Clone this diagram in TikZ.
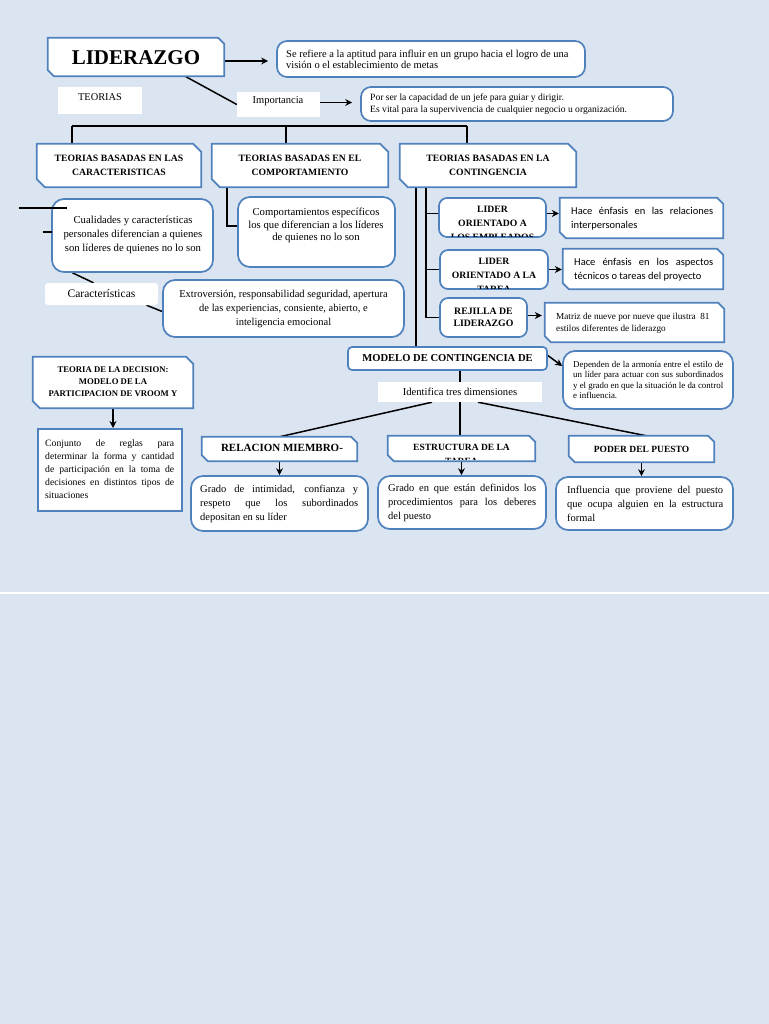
\documentclass[tikz,border=0pt]{standalone}
\usepackage{fontspec}
\setmainfont{Liberation Serif}
\newfontfamily\calib{Carlito}
\usetikzlibrary{arrows.meta,fit}
\definecolor{pagebg}{RGB}{219,229,241}
\definecolor{boxblue}{RGB}{79,129,189}
\pgfdeclarelayer{bg}
\pgfdeclarelayer{edges}
\pgfsetlayers{bg,edges,main}
\newcommand\jl[2]{\makebox[#1pt][s]{#2}}
\newcommand\snipit[2][7]{\path[snipdraw] (#2.north west) -- ([xshift=-#1pt]#2.north east) -- ([yshift=-#1pt]#2.north east) -- (#2.south east) -- ([xshift=#1pt]#2.south west) -- ([yshift=#1pt]#2.south west) -- cycle;}
\tikzset{
 rbox/.style={draw=boxblue, fill=white, line width=1.7pt, rounded corners=10pt, inner sep=0pt},
 sbox/.style={draw=none, inner sep=0pt},
 plainbox/.style={fill=white, draw=none, inner sep=0pt},
 snipdraw/.style={draw=boxblue, fill=white, line width=1.7pt, line join=miter},
 txt/.style={inner sep=0pt, align=left},
 ctxt/.style={inner sep=0pt, align=center},
 conn/.style={draw=black, line width=1.5pt},
 arr/.style={conn, -{Stealth[length=7pt,width=7pt]}},
 hdr/.style={font=\fontsize{9.7}{14}\selectfont\bfseries},
}
\begin{document}
\begin{tikzpicture}[x=1pt,y=-1pt]
\useasboundingbox (0,0) rectangle (768,1024);
\begin{pgfonlayer}{bg}
\fill[pagebg] (-4,-4) rectangle (772,1028);
\draw[white, line width=1.8pt] (-4,593) -- (772,593);
\end{pgfonlayer}

% ---- top
\node[sbox, fit={(48,38)(224,76)}] (lid) {};
\snipit[6]{lid}
\node[ctxt, font=\fontsize{21}{24}\selectfont\bfseries] (lidT) at (136,58) {LIDERAZGO};

\node[rbox, fit={(277,41)(585,77)}] (se) {};
\node[txt, anchor=west, font=\fontsize{10.5}{11.5}\selectfont] (seT) at (286,59.5) {Se refiere a la aptitud para influir en un grupo hacia el logro de una\\visión o el establecimiento de metas};

\node[plainbox, fit={(58,87)(142,114)}] (teo) {};
\node[ctxt, font=\fontsize{10.4}{12}\selectfont] (teoT) at (100,97.5) {TEORIAS};

\node[plainbox, fit={(237,92)(320,117)}] (imp) {};
\node[ctxt, font=\fontsize{10.5}{12}\selectfont] (impT) at (278,101.5) {Importancia};

\node[rbox, fit={(361,87)(673,121)}] (ps) {};
\node[txt, anchor=west, font=\fontsize{9.6}{11.7}\selectfont] (psT) at (370,104) {Por ser la capacidad de un jefe para guiar y dirigir.\\Es vital para la supervivencia de cualquier negocio u organización.};

% ---- theories
\node[sbox, fit={(37,144)(201,187)}] (t1) {};
\snipit[8]{t1}
\node[ctxt, hdr] (t1T) at (119,165) {TEORIAS BASADAS EN LAS\\CARACTERISTICAS};
\node[sbox, fit={(212,144)(388,187)}] (t2) {};
\snipit[8]{t2}
\node[ctxt, hdr] (t2T) at (300,165) {TEORIAS BASADAS EN EL\\COMPORTAMIENTO};
\node[sbox, fit={(400,144)(576,187)}] (t3) {};
\snipit[8]{t3}
\node[ctxt, hdr] (t3T) at (488,165) {TEORIAS BASADAS EN LA\\CONTINGENCIA};

\node[rbox, rounded corners=12pt, fit={(52,199)(213,272)}] (cual) {};
\node[ctxt, font=\fontsize{10.7}{14}\selectfont] (cualT) at (133,235) {Cualidades y características\\personales diferencian a quienes\\son líderes de quienes no lo son};

\node[rbox, rounded corners=12pt, fit={(238,197)(395,267)}] (comp) {};
\node[ctxt, font=\fontsize{10.7}{12.5}\selectfont] (compT) at (316,225.5) {Comportamientos específicos\\los que diferencian a los líderes\\de quienes no lo son};

\node[plainbox, rounded corners=3pt, fit={(45,283)(158,305)}] (carac) {};
\node[ctxt, font=\fontsize{11.5}{13}\selectfont] (caracT) at (101.5,294) {Características};

\node[rbox, rounded corners=12pt, fit={(163,280)(404,337)}] (extro) {};
\node[ctxt, font=\fontsize{10.5}{14}\selectfont] (extroT) at (283.5,309) {Extroversión, responsabilidad seguridad, apertura\\de las experiencias, consiente, abierto, e\\inteligencia emocional};

% ---- contingency branch
\node[rbox, rounded corners=8pt, fit={(439,198)(546,237)}] (lider1) {};
\begin{scope}
\clip ([shift={(1pt,1pt)}]lider1.south west) rectangle ([shift={(-1pt,-1pt)}]lider1.north east);
\node[ctxt, hdr] (l1T) at (492.5,223) {LIDER\\ORIENTADO A\\LOS EMPLEADOS};
\end{scope}
\node[rbox, rounded corners=8pt, fit={(440,250)(548,289)}] (lider2) {};
\begin{scope}
\clip ([shift={(1pt,1pt)}]lider2.south west) rectangle ([shift={(-1pt,-1pt)}]lider2.north east);
\node[ctxt, hdr] (l2T) at (494,275) {LIDER\\ORIENTADO A LA\\TAREA};
\end{scope}
\node[rbox, rounded corners=8pt, fit={(440,298)(527,337)}] (rej) {};
\node[ctxt, font=\fontsize{9.8}{11.7}\selectfont\bfseries] (rejT) at (483.5,317.5) {REJILLA DE\\LIDERAZGO};

\node[sbox, fit={(560,198)(723,238)}] (hace1) {};
\snipit[6]{hace1}
\node[txt, anchor=west, font=\calib\fontsize{10.5}{14}\selectfont] (h1T) at (571,219) {\jl{142}{Hace énfasis en las relaciones}\\interpersonales};
\node[sbox, fit={(563,249)(723,289)}] (hace2) {};
\snipit[6]{hace2}
\node[txt, anchor=west, font=\calib\fontsize{10.5}{14}\selectfont] (h2T) at (574,269.5) {\jl{139}{Hace énfasis en los aspectos}\\técnicos o tareas del proyecto};
\node[sbox, fit={(545,303)(724,342)}] (matriz) {};
\snipit[6]{matriz}
\node[txt, anchor=west, font=\fontsize{9.2}{12}\selectfont] (mT) at (556,323) {Matriz de nueve por nueve que ilustra\ \ 81\\estilos diferentes de liderazgo};

\node[rbox, rounded corners=4pt, fit={(348,347)(547,370)}] (modelo) {};
\node[ctxt, font=\fontsize{10.6}{12}\selectfont\bfseries] (modT) at (447.5,358.5) {MODELO DE CONTINGENCIA DE};

\node[rbox, rounded corners=12pt, fit={(563,351)(733,409)}] (dep) {};
\node[txt, anchor=west, font=\fontsize{8.9}{10.4}\selectfont] (depT) at (573,380) {\jl{150}{Dependen de la armonía entre el estilo de}\\\jl{150}{un líder para actuar con sus subordinados}\\\jl{150}{y el grado en que la situación le da control}\\e influencia.};

\node[plainbox, fit={(378,382)(542,402)}] (ident) {};
\node[ctxt, font=\fontsize{10.6}{12}\selectfont] (identT) at (460,392) {Identifica tres dimensiones};

\node[sbox, fit={(202,437)(357,461)}] (relacion) {};
\snipit[6]{relacion}
\node[ctxt, font=\fontsize{11}{13}\selectfont\bfseries] (relT) at (282,448) {RELACION MIEMBRO-};
\node[sbox, fit={(388,436)(535,461)}] (estr) {};
\snipit[6]{estr}
\begin{scope}
\clip ([shift={(1pt,1.5pt)}]estr.south west) rectangle ([shift={(-1pt,-1pt)}]estr.north east);
\node[ctxt, font=\fontsize{9.5}{14}\selectfont\bfseries] (estrT) at (461.5,454) {ESTRUCTURA DE LA\\TAREA};
\end{scope}
\node[sbox, fit={(569,436)(714,462)}] (poder) {};
\snipit[6]{poder}
\node[ctxt, font=\fontsize{9.5}{12}\selectfont\bfseries] (podT) at (641.5,449.5) {PODER DEL PUESTO};

\node[rbox, rounded corners=12pt, fit={(191,476)(368,531)}] (grado1) {};
\node[txt, anchor=west, font=\fontsize{10.5}{14}\selectfont] (g1T) at (200,504) {\jl{158}{Grado de intimidad, confianza y}\\\jl{158}{respeto que los subordinados}\\depositan en su líder};
\node[rbox, rounded corners=12pt, fit={(378,476)(546,529)}] (grado2) {};
\node[txt, anchor=west, font=\fontsize{10.5}{14}\selectfont] (g2T) at (388,503) {\jl{148}{Grado en que están definidos los}\\\jl{148}{procedimientos para los deberes}\\del puesto};
\node[rbox, rounded corners=12pt, fit={(556,477)(733,530)}] (infl) {};
\node[txt, anchor=west, font=\fontsize{10.5}{14}\selectfont] (iT) at (567,503.5) {\jl{156}{Influencia que proviene del puesto}\\\jl{156}{que ocupa alguien en la estructura}\\formal};

% ---- decision
\node[sbox, fit={(33,357)(193,408)}] (decision) {};
\snipit[7]{decision}
\node[ctxt, font=\fontsize{8.7}{12}\selectfont\bfseries] (decT) at (113,381.5) {TEORIA DE LA DECISION:\\MODELO DE LA\\PARTICIPACION DE VROOM Y};
\node[draw=boxblue, fill=white, line width=2pt, inner sep=0pt, fit={(38,429)(182,511)}] (conj) {};
\node[txt, anchor=west, font=\fontsize{9.7}{13}\selectfont] (conjT) at (45,469.5) {\jl{129}{Conjunto de reglas para}\\\jl{129}{determinar la forma y cantidad}\\\jl{129}{de participación en la toma de}\\\jl{129}{decisiones en distintos tipos de}\\situaciones};

% ---- loose lines over the Cualidades box
\coordinate (sa) at (19,208); \coordinate (sb) at (67,208);
\coordinate (sc) at (43,232); \coordinate (sd) at (52,232);
\draw[conn] (sa) -- (sb);
\draw[conn] (sc) -- (sd);

% ---- connectors
\begin{pgfonlayer}{edges}
\draw[arr, shorten >=8pt] ([yshift=-4pt]lid.east) -- ([yshift=-4pt]lid.east -| se.west);
\draw[conn] ([xshift=49pt]lid.south) -- (imp.west);
\draw[arr, shorten >=8pt] ([yshift=2pt]imp.east) -- ([yshift=2pt]imp.east -| ps.west);
\coordinate (tl) at (72,126);
\coordinate (tm) at (286,126);
\coordinate (tr) at (467,126);
\draw[conn] (tl) -- (tr);
\draw[conn] (tl) -- (tl |- t1.north);
\draw[conn] (tm) -- (tm |- t2.north);
\draw[conn] (tr) -- (tr |- t3.north);
\draw[conn] ([xshift=-60pt]cual.south) -- ([xshift=-8pt]carac.north);
\draw[conn] ([xshift=45pt]carac.south) -- ([yshift=-3pt]extro.west);
\draw[conn] ([xshift=-73pt]t2.south) |- ([yshift=6pt]comp.west);
\draw[conn] ([xshift=-72pt]t3.south) -- ([xshift=-72pt]t3.south |- modelo.north);
\coordinate (cb) at ([xshift=-62pt]t3.south);
\coordinate (l1in) at ([yshift=4pt]lider1.west);
\draw[conn] (cb) |- (rej.west);
\draw[conn] (cb |- l1in) -- (l1in);
\draw[conn] (cb |- lider2.west) -- (lider2.west);
\coordinate (l1out) at ([yshift=4pt]lider1.east);
\draw[arr, shorten >=1pt] (l1out) -- (l1out -| hace1.west);
\draw[arr, shorten >=1pt] (lider2.east) -- (lider2.east -| hace2.west);
\draw[arr, shorten >=3pt] ([yshift=2pt]rej.east) -- ([yshift=2pt]rej.east -| matriz.west);
\draw[arr] ([yshift=3pt]modelo.east) -- ([yshift=14pt]dep.west);
\draw[conn] (ident.center |- modelo.south) -- (ident.center |- estr.north);
\draw[conn] ([xshift=-28pt]ident.south) -- (relacion.north);
\draw[conn] ([xshift=18pt]ident.south) -- ([xshift=5pt]poder.north);
\draw[arr] (relacion.south) -- (relacion.south |- grado1.north);
\draw[arr] (estr.south) -- (estr.south |- grado2.north);
\draw[arr] (poder.south) -- (poder.south |- infl.north);
\draw[arr] (decision.south) -- (decision.south |- conj.north);
\end{pgfonlayer}
\end{tikzpicture}
\end{document}
